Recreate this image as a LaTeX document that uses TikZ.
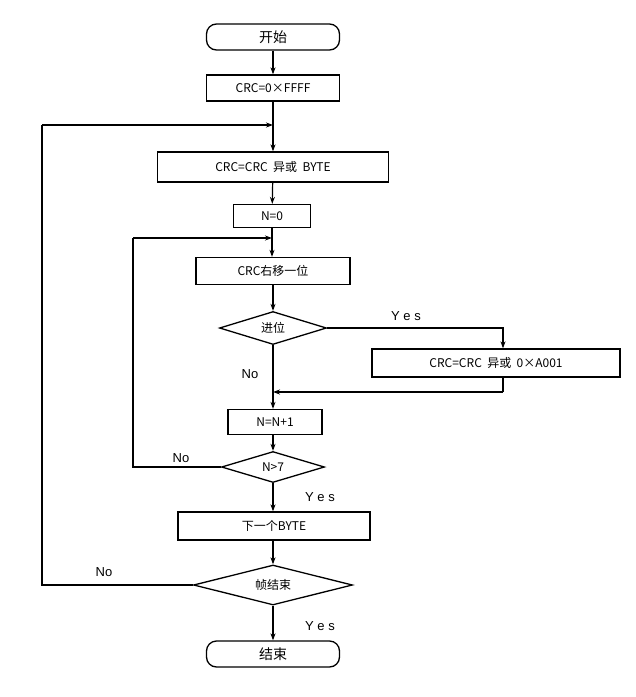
\documentclass[tikz,border=0pt]{standalone}
\usepackage{fontspec}
\setmainfont{Liberation Sans}
\newfontfamily\cjk{Noto Sans CJK SC}
\usetikzlibrary{shapes.geometric,arrows.meta}
\begin{document}
\begin{tikzpicture}[x=1pt,y=-1pt,
  every node/.style={font=\cjk\fontsize{12}{14}\selectfont},
  box/.style={draw,line width=1.3pt,rectangle,inner sep=0pt},
  term/.style={draw,line width=1.3pt,rounded corners=10pt,inner sep=0pt,minimum width=133pt,minimum height=26pt,font=\cjk\fontsize{14}{16}\selectfont},
  dia/.style={draw,line width=1.3pt,diamond,aspect=3.2,inner sep=0pt},
  ar/.style={line width=1.2pt,-{Stealth[length=7pt,width=5pt]}},
  ln/.style={line width=1.2pt},
  lab/.style={font=\fontsize{13}{15}\selectfont}]
\useasboundingbox (0,0) rectangle (636,697);
\node[term] (start) at (273,37) {开始};
\node[box,minimum width=133pt,minimum height=26pt] (init) at (273,88) {CRC=0×FFFF};
\coordinate (j1) at (273,125);
\node[box,minimum width=231pt,minimum height=30pt] (xor) at (273,167) {CRC=CRC\ \ 异或\ \ BYTE};
\node[box,minimum width=77pt,minimum height=23pt] (n0) at (272,216) {N=0};
\coordinate (j2) at (272,238);
\node[box,minimum width=154pt,minimum height=27pt] (shift) at (273,271) {CRC右移一位};
\node[dia,minimum width=107pt,minimum height=33pt] (carry) at (273,328) {进位};
\node[box,minimum width=248pt,minimum height=28pt] (xa) at (496,363) {CRC=CRC\ \ 异或\ \ 0×A001};
\coordinate (j3) at (273,392);
\node[box,minimum width=94pt,minimum height=25pt] (inc) at (275,422) {N=N+1};
\node[dia,minimum width=103pt,minimum height=31pt] (n7) at (273,467) {N>7};
\node[box,minimum width=192pt,minimum height=28pt] (next) at (274,526) {下一个BYTE};
\node[dia,minimum width=159pt,minimum height=40pt] (end) at (273,585) {帧结束};
\node[term] (stop) at (273,654) {结束};
\coordinate (c1) at (42,585);
\coordinate (c2) at (42,125);
\coordinate (c3) at (133,467);
\coordinate (c4) at (133,238);
\coordinate (c5) at (503,328);
\coordinate (c6) at (503,392);
\draw[ar] (start) -- (init);
\draw[ln] (init) -- (j1);
\draw[ar] (j1) -- (xor);
\draw[ar] (xor) -- (n0);
\draw[ln] (n0) -- (j2);
\draw[ar] (j2) -- (shift.north -| j2);
\draw[ar] (shift.south -| carry) -- (carry);
\draw[ar] (carry.east) -- (c5) -- (xa.north -| c5);
\draw[ln] (xa.south -| c6) -- (c6);
\draw[ar] (c6) -- (j3);
\draw[ln] (carry) -- (j3);
\draw[ar] (j3) -- (inc.north -| j3);
\draw[ar] (inc.south -| n7) -- (n7);
\draw[ar] (n7) -- (next.north -| n7);
\draw[ar] (next.south -| end) -- (end);
\draw[ar] (end) -- (stop);
\draw[ln] (n7.west) -- (c3) -- (c4);
\draw[ar] (c4) -- (j2);
\draw[ln] (end.west) -- (c1) -- (c2);
\draw[ar] (c2) -- (j1);
\node[lab] at (406,316) {Y e s};
\node[lab] at (250,374) {No};
\node[lab] at (181,458) {No};
\node[lab] at (320,497) {Y e s};
\node[lab] at (104,572) {No};
\node[lab] at (320,626) {Y e s};
\end{tikzpicture}
\end{document}
